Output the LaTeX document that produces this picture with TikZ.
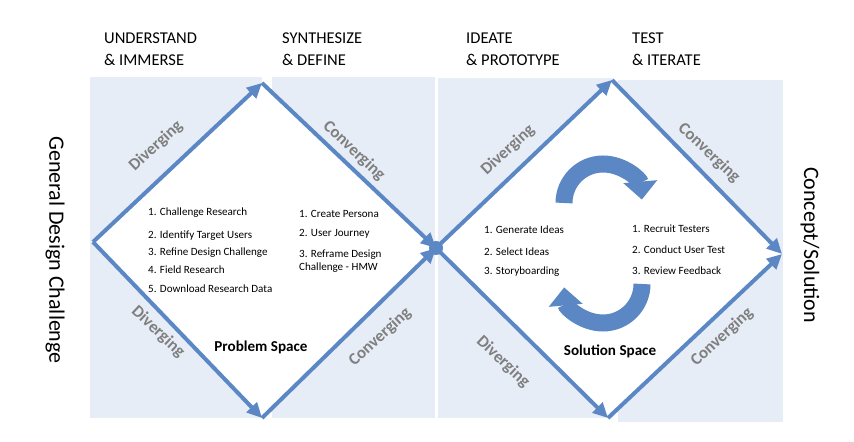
\documentclass[tikz,border=0pt]{standalone}
\usepackage{fontspec}
\setmainfont{Carlito}
\usetikzlibrary{arrows.meta}
\definecolor{flowblue}{HTML}{5B87C5}
\definecolor{panelblue}{HTML}{E7EDF7}
\definecolor{labelgray}{HTML}{7F7F7F}
\tikzset{
  flow/.style={draw=flowblue, line width=0.08cm, -{Triangle[length=0.3cm,width=0.28cm]}},
  edge/.style={draw=flowblue, line width=0.08cm},
  phase/.style={anchor=north west, align=left, font=\fontsize{9.4}{12.5}\selectfont},
  mode/.style={text=labelgray, font=\bfseries\fontsize{9.6}{11}\selectfont},
  item/.style={anchor=west, font=\fontsize{6.3}{7.4}\selectfont},
  space/.style={font=\bfseries\fontsize{8.6}{10}\selectfont},
  cycle/.style={draw=flowblue, line width=0.34cm, -{Triangle[length=0.36cm,width=0.66cm]}}
}
\begin{document}
\begin{tikzpicture}[x=0.02cm, y=0.02cm]
  \useasboundingbox (0,0) rectangle (854,442);
  % panels
  \fill[panelblue] (90,24) rectangle (262,365);
  \fill[panelblue] (272,24) rectangle (435,365);
  \fill[panelblue] (438,24) rectangle (612,364);
  \fill[panelblue] (618,20) rectangle (783,362);
  \fill[white] (93,200) -- (262,359) -- (436,194) -- (262,24) -- cycle;
  \fill[white] (436,194) -- (612,362) -- (782,188) -- (608,24) -- cycle;

  % corners
  \coordinate (pl) at (93,200);
  \coordinate (pt) at (262,359);
  \coordinate (pb) at (262,24);
  \coordinate (mid) at (436,194);
  \coordinate (st) at (612,362);
  \coordinate (sb) at (608,24);
  \coordinate (sr) at (782,188);

  % problem space
  \draw[flow] (pl) -- (pt);
  \draw[flow] (pt) -- (mid);
  \draw[flow] (pl) -- (pb);
  \draw[flow] (pb) -- (mid);
  % solution space
  \draw[flow] (mid) -- (st);
  \draw[flow] (st) -- (sr);
  \draw[flow] (mid) -- (sb);
  \draw[flow] (sb) -- (sr);
  \fill[flowblue] (mid) circle (7);

  % headers
  \node[phase] (understand) at (98,415) {UNDERSTAND\\\& IMMERSE};
  \node[phase] (synthesize) at (276,415) {SYNTHESIZE\\\& DEFINE};
  \node[phase] (ideate) at (460,415) {IDEATE\\\& PROTOTYPE};
  \node[phase] (test) at (626,415) {TEST\\\& ITERATE};

  % side labels
  \node[rotate=-90, font=\fontsize{12.5}{14}\selectfont] (challenge) at (55,192) {General Design Challenge};
  \node[rotate=-90, font=\fontsize{12.5}{14}\selectfont] (concept) at (810,197) {Concept/Solution};

  % diverging / converging
  \node[mode, rotate=43] (div1) at (156,296) {Diverging};
  \node[mode, rotate=-43] (con1) at (354,291) {Converging};
  \node[mode, rotate=-43] (div2) at (158,110) {Diverging};
  \node[mode, rotate=43] (con2) at (380,105) {Converging};
  \node[mode, rotate=43] (div3) at (508,292) {Diverging};
  \node[mode, rotate=-43] (con3) at (709,289) {Converging};
  \node[mode, rotate=-43] (div4) at (503,80) {Diverging};
  \node[mode, rotate=43] (con4) at (722,105) {Converging};

  % problem space lists
  \node[item] (u1) at (142,229) {1. Challenge Research};
  \node[item] (u2) at (142,206) {2. Identify Target Users};
  \node[item] (u3) at (142,189) {3. Refine Design Challenge};
  \node[item] (u4) at (142,172) {4. Field Research};
  \node[item] (u5) at (142,153) {5. Download Research Data};
  \node[item] (d1) at (293,228) {1. Create Persona};
  \node[item] (d2) at (293,208) {2. User Journey};
  \node[item, align=left] (d3) at (293,181) {3. Reframe Design\\Challenge - HMW};
  \node[space] (problem) at (261,95) {Problem Space};

  % solution space lists
  \node[item] (i1) at (478,212) {1. Generate Ideas};
  \node[item] (i2) at (478,190) {2. Select Ideas};
  \node[item] (i3) at (478,170) {3. Storyboarding};
  \node[item] (t1) at (626,213) {1. Recruit Testers};
  \node[item] (t2) at (626,192) {2. Conduct User Test};
  \node[item] (t3) at (626,171) {3. Review Feedback};
  \node[space] (solution) at (610,91) {Solution Space};

  % iteration cycle
  \draw[cycle] (564,239) arc[start angle=180, end angle=5, radius=39];
  \draw[cycle] (642,158) arc[start angle=0, end angle=-175, radius=39];
\end{tikzpicture}
\end{document}
